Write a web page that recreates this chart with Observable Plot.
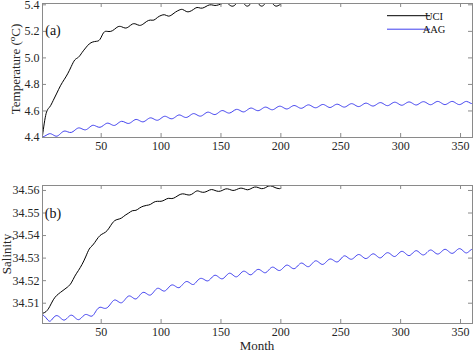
<!DOCTYPE html>
<html><head><meta charset="utf-8">
<script src="https://cdn.jsdelivr.net/npm/d3@7"></script>
<script src="https://cdn.jsdelivr.net/npm/@observablehq/plot@0.6"></script>
<style>
body{margin:0;background:#fff;}
#chart{width:474px;height:351px;overflow:hidden;}
svg{display:block;}
</style></head><body><div id="chart"></div>
<script>
// ---- data ----
const seriesNames = ["UCI", "AAG"];
const panelLabels = ["(a)", "(b)"];
const xTicks = [50, 100, 150, 200, 250, 300, 350];
const tempTicks = [4.4, 4.6, 4.8, 5.0, 5.2, 5.4];
const salTicks = [34.51, 34.52, 34.53, 34.54, 34.55, 34.56];
const monthsAAG = [...d3.range(1, 359, 3), 360];
const monthsUCI = [...d3.range(1, 200, 3), 200];

const tempUCI = [4.415,4.58,4.63,4.68,4.735,4.79,4.835,4.88,4.935,4.985,
5.005,5.04,5.075,5.105,5.12,5.125,5.14,5.19,5.20,5.20,
5.215,5.235,5.235,5.225,5.235,5.255,5.255,5.245,5.255,5.275,
5.285,5.285,5.305,5.32,5.325,5.315,5.325,5.345,5.36,5.365,
5.35,5.35,5.365,5.38,5.375,5.38,5.395,5.40,5.395,5.40,
5.41,5.42,5.40,5.39,5.41,5.43,5.41,5.39,5.41,5.43,
5.41,5.39,5.41,5.43,5.41,5.39,5.40,5.40];

const tempAAG = [4.403,4.416,4.429,4.419, 4.410,4.429,4.448,4.443, 4.438,4.455,4.472,4.465,
4.458,4.475,4.492,4.484, 4.477,4.492,4.508,4.500, 4.491,4.507,4.522,4.514,
4.506,4.521,4.536,4.527, 4.518,4.533,4.548,4.539, 4.530,4.545,4.560,4.550,
4.541,4.555,4.570,4.560, 4.551,4.565,4.580,4.570, 4.561,4.576,4.591,4.582,
4.573,4.588,4.603,4.593, 4.584,4.598,4.612,4.603, 4.593,4.608,4.622,4.612,
4.602,4.615,4.629,4.619, 4.609,4.623,4.636,4.626, 4.615,4.628,4.641,4.631,
4.620,4.633,4.646,4.635, 4.624,4.636,4.649,4.638, 4.626,4.639,4.651,4.640,
4.629,4.642,4.655,4.644, 4.633,4.646,4.659,4.648, 4.637,4.650,4.663,4.652,
4.640,4.653,4.666,4.655, 4.643,4.656,4.668,4.657, 4.645,4.658,4.670,4.659,
4.647,4.660,4.672,4.660, 4.648,4.660,4.672,4.660, 4.648,4.660,4.672,4.660,
4.655];

const salUCI = [34.5055,34.5063,34.5085,34.5115,34.5135,34.5148,34.5160,34.5172,34.5190,34.5220,
34.5245,34.5272,34.5305,34.5340,34.5358,34.5380,34.5400,34.5410,34.5422,34.5445,
34.5465,34.5472,34.5478,34.5490,34.5500,34.5510,34.5512,34.5522,34.5530,34.5534,
34.5538,34.5548,34.5552,34.5552,34.5558,34.5565,34.5564,34.5570,34.5580,34.5585,
34.5582,34.5580,34.5588,34.5598,34.5594,34.5592,34.5598,34.5604,34.5600,34.5596,
34.5600,34.5607,34.5605,34.5600,34.5604,34.5610,34.5608,34.5603,34.5608,34.5615,
34.5613,34.5608,34.5612,34.5620,34.5618,34.5611,34.5608,34.5610];

const salAAG = [34.5050,34.5035,34.5020,34.5035, 34.5045,34.5035,34.5025,34.5036,
34.5047,34.5037,34.5027,34.5038, 34.5050,34.5045,34.5045,34.5068,
34.5082,34.5078,34.5080,34.5098, 34.5114,34.5108,34.5102,34.5117,
34.5132,34.5126,34.5119,34.5134, 34.5148,34.5142,34.5136,34.5151,
34.5166,34.5160,34.5154,34.5168, 34.5181,34.5175,34.5169,34.5183,
34.5196,34.5190,34.5183,34.5198, 34.5210,34.5205,34.5199,34.5212,
34.5224,34.5216,34.5208,34.5220, 34.5233,34.5225,34.5217,34.5230,
34.5242,34.5234,34.5226,34.5239, 34.5250,34.5243,34.5235,34.5248,
34.5260,34.5252,34.5245,34.5257, 34.5269,34.5261,34.5253,34.5265,
34.5278,34.5270,34.5262,34.5275, 34.5288,34.5280,34.5272,34.5284,
34.5296,34.5290,34.5283,34.5296, 34.5310,34.5302,34.5295,34.5306,
34.5316,34.5307,34.5298,34.5308, 34.5319,34.5310,34.5301,34.5313,
34.5324,34.5316,34.5307,34.5319, 34.5330,34.5321,34.5311,34.5322,
34.5333,34.5323,34.5314,34.5325, 34.5336,34.5327,34.5318,34.5328,
34.5339,34.5330,34.5321,34.5331, 34.5342,34.5333,34.5323,34.5334,
34.5340];

// ---- build ----
const FONT = "'Liberation Serif','Times New Roman',serif";
const colors = {UCI: "#000000", AAG: "#3f3fef"};
const AX = "#8a8a8a";
const W = 474, ML = 42, MR = 2;

function rows(months, vals) {
  return vals.map((v, i) => ({month: months[i], value: v}));
}

function panel({uci, aag, yDomain, yTicks, fmt, height, mt, mb}) {
  const fh = height - mt - mb;
  const fw = W - ML - MR;
  return Plot.plot({
    width: W, height, marginLeft: ML, marginRight: MR, marginTop: mt, marginBottom: mb,
    style: {fontFamily: FONT, fontSize: "12px", color: "#262626", background: "white", overflow: "visible"},
    x: {domain: [1, 360]},
    y: {domain: yDomain},
    marks: [
      Plot.line(uci, {x: "month", y: "value", stroke: colors.UCI, strokeWidth: 1, curve: "natural", clip: true}),
      Plot.line(aag, {x: "month", y: "value", stroke: colors.AAG, strokeWidth: 1, curve: "natural", clip: true}),
      Plot.frame({stroke: AX}),
      Plot.tickX(xTicks, {x: d => d, stroke: AX, insetTop: fh - 4}),
      Plot.tickX(xTicks, {x: d => d, stroke: AX, insetBottom: fh - 4}),
      Plot.tickY(yTicks, {y: d => d, stroke: AX, insetRight: fw - 4}),
      Plot.tickY(yTicks, {y: d => d, stroke: AX, insetLeft: fw - 4}),
      Plot.axisX({ticks: xTicks, tickSize: 0, tickPadding: 4, label: null}),
      Plot.axisY({ticks: yTicks, tickSize: 0, tickPadding: 3, tickFormat: fmt, label: null})
    ]
  });
}

const p1 = panel({
  uci: rows(monthsUCI, tempUCI), aag: rows(monthsAAG, tempAAG),
  yDomain: [4.4, 5.41], yTicks: tempTicks, fmt: d3.format(".1f"),
  height: 158, mt: 3, mb: 21
});
const p2 = panel({
  uci: rows(monthsUCI, salUCI), aag: rows(monthsAAG, salAAG),
  yDomain: [34.501, 34.5622], yTicks: salTicks, fmt: d3.format(".2f"),
  height: 193, mt: 27, mb: 28
});

// y labels, panel tags, legend, x label
const s1 = d3.select(p1), s2 = d3.select(p2);
const tl = s1.append("text").attr("transform", "translate(20,69) rotate(-90)")
  .attr("text-anchor", "middle").attr("font-family", FONT).attr("font-size", 13).attr("fill", "#262626");
tl.append("tspan").text("Temperature (");
tl.append("tspan").attr("font-size", 9).attr("dy", -5).text("o");
tl.append("tspan").attr("dy", 5).text("C)");

s2.append("text").attr("transform", "translate(11,96) rotate(-90)")
  .attr("text-anchor", "middle").attr("font-family", FONT).attr("font-size", 13).attr("fill", "#262626")
  .text("Salinity");
s2.append("text").attr("x", 257).attr("y", 191.5).attr("text-anchor", "middle")
  .attr("font-family", FONT).attr("font-size", 13).attr("fill", "#262626").text("Month");

s1.append("text").attr("x", 53).attr("y", 35).attr("font-family", FONT).attr("font-size", 14).attr("fill", "#111").text(panelLabels[0]);
s2.append("text").attr("x", 53).attr("y", 59.5).attr("font-family", FONT).attr("font-size", 14).attr("fill", "#111").text(panelLabels[1]);

const leg = s1.append("g").attr("font-family", FONT).attr("font-size", 10.5).attr("fill", "#111");
seriesNames.forEach((n, i) => {
  const y = 15.7 + i * 13.5;
  leg.append("line").attr("x1", 387).attr("x2", 430).attr("y1", y).attr("y2", y)
    .attr("stroke", colors[n]).attr("stroke-width", 1);
  leg.append("text").attr("x", 434).attr("y", y + 3.8).text(n);
});

document.getElementById("chart").append(p1, p2);
</script></body></html>
